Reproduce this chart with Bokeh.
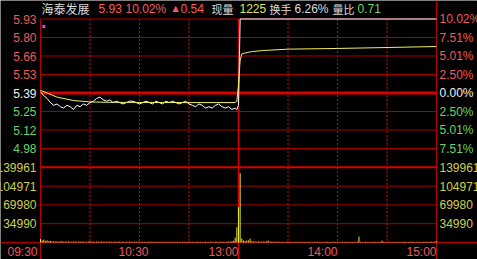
from bokeh.plotting import figure
from bokeh.models import Range1d
from bokeh.embed import file_html
from bokeh.resources import INLINE
from bokeh.core.properties import value

# ---------------- data ----------------
stock_name = "海泰发展"
last_price = "5.93"
pct_change = "10.02%"
change_mark = "▲"
change_val = "0.54"
cur_vol_label = "现量"
cur_vol = "1225"
turnover_label = "换手"
turnover = "6.26%"
vol_ratio_label = "量比"
vol_ratio = "0.71"

prev_close = 5.39
price_ticks = [5.93, 5.795, 5.66, 5.525, 5.39, 5.255, 5.12, 4.985]
price_labels = ["5.93", "5.80", "5.66", "5.53", "5.39", "5.25", "5.12", "4.98"]
pct_labels = ["10.02%", "7.51%", "5.01%", "2.50%", "0.00%", "2.50%", "5.01%", "7.51%"]
vol_ticks = [139961, 104971, 69980, 34990]
vol_labels = ["139961", "104971", "69980", "34990"]
vol_top_value = 174951
time_ticks = [0, 60, 120, 180, 240]
time_labels = ["09:30", "10:30", "13:00", "14:00", "15:00"]
half_hour_ticks = [30, 60, 90, 150, 180, 210]
session_break = 120

price_min = [0, 2, 4, 6, 8, 10, 12, 14, 16, 18, 20, 22, 24, 26, 28, 30, 32, 34, 36, 38,
             40, 42, 44, 46, 48, 50, 52, 54, 56, 58, 60, 62, 64, 66, 68, 70, 72, 74, 76, 78,
             80, 82, 84, 86, 88, 90, 92, 94, 96, 98, 100, 102, 104, 106, 108, 110, 112, 114,
             116, 118, 119, 120, 121, 240]
price_val = [5.40, 5.37, 5.35, 5.32, 5.30, 5.31, 5.29, 5.28, 5.30, 5.29, 5.27, 5.30, 5.29, 5.31,
             5.30, 5.32, 5.33, 5.35, 5.36, 5.34, 5.33, 5.34, 5.32, 5.33, 5.32, 5.31, 5.32, 5.33,
             5.33, 5.32, 5.31, 5.32, 5.33, 5.32, 5.31, 5.33, 5.32, 5.31, 5.33, 5.32, 5.33, 5.32,
             5.31, 5.32, 5.33, 5.31, 5.30, 5.29, 5.31, 5.30, 5.28, 5.29, 5.28, 5.30, 5.31, 5.29,
             5.28, 5.29, 5.27, 5.28, 5.27, 5.30, 5.93, 5.93]

avg_min = [0, 4, 10, 20, 30, 40, 60, 90, 118, 119, 120, 121, 122, 124, 128, 135, 150, 180, 210, 240]
avg_val = [5.41, 5.39, 5.36, 5.335, 5.325, 5.322, 5.321, 5.32, 5.32, 5.33, 5.45, 5.63, 5.675,
           5.682, 5.692, 5.70, 5.71, 5.715, 5.722, 5.729]

volumes = [
    6500, 3800, 5200, 2600, 4100, 2300, 3000, 1900, 2400, 1700, 2100, 1500, 1900, 2600, 1400, 1800, 1600, 2200, 1300, 1700,
    1500, 1900, 1200, 1600, 2000, 1400, 1800, 1300, 1500, 1700, 2200, 1400, 1600, 1200, 1900, 1500, 1300, 1700, 1400, 1600,
    1200, 1500, 1800, 1300, 1100, 1600, 1400, 1200, 1700, 1300, 1500, 1000, 1400, 1200, 1600, 1300, 1100, 1500, 1200, 1400,
    1300, 1100, 1500, 1200, 1000, 1400, 1200, 1600, 1100, 1300, 1500, 1000, 1200, 1400, 1100, 1300, 1000, 1200, 1500, 1100,
    1300, 1200, 1000, 1400, 1100, 1300, 1200, 1600, 1000, 1200, 1400, 1100, 1300, 1000, 1200, 1500, 1100, 1300, 1200, 1000,
    1400, 1100, 1200, 1600, 1300, 1000, 1200, 1400, 1100, 1500, 1300, 1200, 1000, 1400, 1800, 1500, 2200, 3000,
    9000, 28500, 65700, 129000, 7400, 3700, 2500, 3700, 3700, 7400,
    2500, 2000, 1800, 1500, 2200, 1600, 1400, 1900, 1700, 2100, 3500, 1500, 1300, 1600, 1200, 1400, 1500, 1100, 1300, 1200,
    1000, 1200, 1400, 1100, 1300, 1000, 1200, 1100, 1300, 1000, 1200, 1400, 1100, 1000, 1200, 1300, 1100, 1000, 1200, 1100,
    1300, 1000, 1200, 1100, 1000, 1300, 1200, 1100, 1000, 1200, 1400, 1100, 1000, 1200, 1100, 1300, 1000, 1200, 1100, 1000,
    1200, 1100, 1300, 1000, 1500, 11000, 1200, 1100, 1000, 1300, 1200, 1100, 1000, 1200, 1100, 1300, 1000, 1200, 1100, 3500,
    1200, 1000, 1100, 1300, 1000, 1200, 1100, 1000, 1300, 1200, 1100, 1000, 1200, 1400, 1100, 1000, 1200, 1300, 1100, 1000,
    1200, 1100, 1300, 1000, 1200, 1400, 1100, 1300, 1200, 1500, 1400, 1800, 2500,
]
vol_min = list(range(len(volumes)))

marker_min = [2]
marker_price = [5.875]

# ---------------- layout ----------------
W, H = 477, 259
X0PX, X1PX = 40.0, 436.0
MINUTES = 240.0
ppm = (X1PX - X0PX) / MINUTES
x_start = -X0PX / ppm
x_end = (W - X0PX) / ppm

TOP_PX, PBOT_PX = 18.5, 148.0
ppy = (PBOT_PX - TOP_PX) / (price_ticks[0] - price_ticks[-1])
y_top = price_ticks[0] + TOP_PX / ppy
y_bot = price_ticks[0] - (H - TOP_PX) / ppy

VZERO_PX = 242.0
ppv = (VZERO_PX - PBOT_PX) / vol_top_value
v_top = VZERO_PX / ppv
v_bot = -(H - VZERO_PX) / ppv


def px2x(px):
    return x_start + px / ppm


def py2y(py):
    return y_top - py / ppy


RED_TXT = "#f05a5a"
GREEN_TXT = "#6ad46a"
WHITE_TXT = "#f0f0f0"
YEL_TXT = "#cfcf4e"
GRID = "#a80000"
GRID_DOT = "#e00000"
GRID_BOLD = "#d80000"
BORDER = "#b40000"
NUM_FONT = value("Liberation Sans")
CJK_FONT = value("Noto Sans CJK SC")

p = figure(width=W, height=H, x_range=Range1d(x_start, x_end), y_range=Range1d(y_bot, y_top),
           toolbar_location=None, output_backend="svg", min_border=0,
           x_axis_type=None, y_axis_type=None,
           background_fill_color="black", border_fill_color="black", outline_line_color=None)
p.extra_y_ranges = {"vol": Range1d(v_bot, v_top)}
p.xgrid.visible = False
p.ygrid.visible = False

# vertical dotted half-hour lines (drawn first, under everything)
n_hh = len(half_hour_ticks)
p.segment(x0=half_hour_ticks, x1=half_hour_ticks, y0=[price_ticks[0]] * n_hh,
          y1=[py2y(VZERO_PX)] * n_hh, line_color=GRID_DOT, line_width=1, line_dash="2 2")

# horizontal price grid lines
thin_p = [t for t in price_ticks if t != prev_close]
p.segment(x0=[0] * len(thin_p), x1=[MINUTES] * len(thin_p), y0=thin_p, y1=thin_p,
          line_color=GRID, line_width=1)
p.segment(x0=[0], x1=[MINUTES], y0=[prev_close], y1=[prev_close], line_color=GRID_BOLD, line_width=3)

# volume grid lines
p.segment(x0=[0] * 3, x1=[MINUTES] * 3, y0=vol_ticks[1:], y1=vol_ticks[1:],
          line_color=GRID, line_width=1, y_range_name="vol")
p.segment(x0=[0], x1=[MINUTES], y0=[vol_ticks[0]], y1=[vol_ticks[0]],
          line_color=GRID_BOLD, line_width=2, y_range_name="vol")
# bottom border across full width
p.segment(x0=[x_start], x1=[x_end], y0=[0], y1=[0], line_color=BORDER, line_width=1, y_range_name="vol")

# borders and session break
p.segment(x0=[0], x1=[0], y0=[price_ticks[0]], y1=[y_bot], line_color=BORDER, line_width=1)
p.segment(x0=[MINUTES], x1=[MINUTES], y0=[y_top], y1=[y_bot], line_color=BORDER, line_width=1)
p.segment(x0=[session_break], x1=[session_break], y0=[price_ticks[0]], y1=[y_bot],
          line_color=GRID_BOLD, line_width=1.5)

# volume bars
p.segment(x0=vol_min, x1=vol_min, y0=[0] * len(volumes), y1=volumes,
          line_color="#e8e830", line_width=1, y_range_name="vol")

# price and average lines
p.line(price_min, price_val, line_color="white", line_width=1)
p.line(avg_min, avg_val, line_color="#f0f060", line_width=1)

# marker
p.scatter(marker_min, marker_price, marker="square", size=3, fill_color="#e040e0", line_color=None)

# left / right labels
lcolors = [RED_TXT] * 4 + [WHITE_TXT] + [GREEN_TXT] * 3
p.text(x=[px2x(36)] * 8, y=price_ticks, text=price_labels, text_color=lcolors,
       text_font=NUM_FONT, text_font_size="12px", text_align="right", text_baseline="middle")
p.text(x=[px2x(439)] * 8, y=price_ticks, text=pct_labels, text_color=lcolors,
       text_font=NUM_FONT, text_font_size="12px", text_align="left", text_baseline="middle")
p.text(x=[px2x(36)] * 4, y=vol_ticks, text=vol_labels, text_color=YEL_TXT,
       text_font=NUM_FONT, text_font_size="12px", text_align="right", text_baseline="middle",
       y_range_name="vol")
p.text(x=[px2x(439)] * 4, y=vol_ticks, text=vol_labels, text_color=YEL_TXT,
       text_font=NUM_FONT, text_font_size="12px", text_align="left", text_baseline="middle",
       y_range_name="vol")

# time labels
p.text(x=time_ticks, y=[py2y(251)] * len(time_ticks), text=time_labels, text_color=RED_TXT,
       text_font=NUM_FONT, text_font_size="12px", text_align="right", text_baseline="middle",
       x_offset=[-3, 9, 0, 0, 0])

# header
hy = py2y(8)
p.text(x=[px2x(41)], y=[hy], text=[stock_name], text_color="#dcdcdc", text_font=CJK_FONT,
       text_font_size="12px", text_baseline="middle")
p.text(x=[px2x(98), px2x(125), px2x(180)], y=[hy] * 3, text=[last_price, pct_change, change_val],
       text_color="#ff5a5a", text_font=NUM_FONT, text_font_size="12px", text_baseline="middle")
p.text(x=[px2x(172)], y=[hy], text=[change_mark], text_color="#ff5a5a", text_font=value("DejaVu Sans"),
       text_font_size="8px", text_baseline="middle")
p.text(x=[px2x(211), px2x(269), px2x(332)], y=[hy] * 3,
       text=[cur_vol_label, turnover_label, vol_ratio_label], text_color="#dcdcdc", text_font=CJK_FONT,
       text_font_size="11px", text_baseline="middle")
p.text(x=[px2x(239)], y=[hy], text=[cur_vol], text_color="#e0e060", text_font=NUM_FONT,
       text_font_size="12px", text_baseline="middle")
p.text(x=[px2x(294)], y=[hy], text=[turnover], text_color="#dcdcdc", text_font=NUM_FONT,
       text_font_size="12px", text_baseline="middle")
p.text(x=[px2x(357)], y=[hy], text=[vol_ratio], text_color=GREEN_TXT, text_font=NUM_FONT,
       text_font_size="12px", text_baseline="middle")

open("out.html", "w").write(file_html(p, INLINE))
